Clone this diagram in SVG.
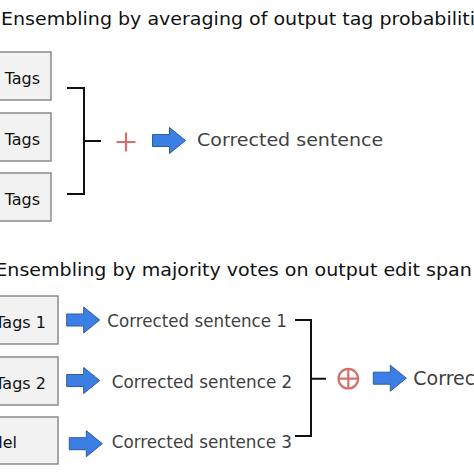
<svg xmlns="http://www.w3.org/2000/svg" width="474" height="474" viewBox="0 0 474 474">
<style>
.bg{fill:#ffffff}
.title{font-family:"DejaVu Sans","Noto Sans",sans-serif;font-size:18.5px;fill:#111111}
.box{fill:#f2f2f2;stroke:#8a8a8a;stroke-width:1.5}
.lbl{font-family:"DejaVu Sans","Noto Sans",sans-serif;font-size:16px;fill:#111111}
.out{font-family:"DejaVu Sans","Noto Sans",sans-serif;font-size:18.5px;fill:#3f3f3f}
.br{fill:none;stroke:#111111;stroke-width:2}
.red{fill:none;stroke:#d4706c;stroke-width:2.2}
.arr{fill:#3c7fe4;stroke:#2d5aa0;stroke-width:1}
</style>
<defs>
<path id="blk" class="arr" d="M0,-6 H17 V-13 L33,0 L17,13 V6 H0 Z"/>
</defs>
<rect class="bg" x="0" y="0" width="474" height="474"/>

<g id="title-top">
<text class="title" x="1" y="25" textLength="474" lengthAdjust="spacingAndGlyphs">Ensembling by averaging of output tag probabiliti</text>
</g>
<g id="top-box-1"><rect class="box" x="-10" y="52" width="61" height="48"/><text class="lbl" x="4.7" y="84.3">Tags</text></g>
<g id="top-box-2"><rect class="box" x="-10" y="113" width="61" height="48"/><text class="lbl" x="4.7" y="145">Tags</text></g>
<g id="top-box-3"><rect class="box" x="-10" y="173" width="61" height="48"/><text class="lbl" x="4.7" y="205">Tags</text></g>
<g id="top-plus"><path class="red" d="M116.5,142 H135.5 M126,132.5 V151.5"/></g>
<g id="top-output"><text class="out" x="197" y="146" textLength="186.3" lengthAdjust="spacingAndGlyphs">Corrected sentence</text></g>

<g id="title-bottom">
<text class="title" x="-4.7" y="276" textLength="476.4" lengthAdjust="spacingAndGlyphs">Ensembling by majority votes on output edit span</text>
</g>
<g id="bot-box-1"><rect class="box" x="-10" y="296" width="68" height="48"/><text class="lbl" x="-4.8" y="328">Tags 1</text></g>
<g id="bot-box-2"><rect class="box" x="-10" y="357" width="68" height="48"/><text class="lbl" x="-4.8" y="389">Tags 2</text></g>
<g id="bot-box-3"><rect class="box" x="-10" y="417" width="68" height="47"/><text class="lbl" x="-7.4" y="448.3">del</text></g>
<g id="sent-1"><text class="out" x="107.3" y="326.7" textLength="179.7" lengthAdjust="spacingAndGlyphs">Corrected sentence 1</text></g>
<g id="sent-2"><text class="out" x="111.7" y="388.3" textLength="180.6" lengthAdjust="spacingAndGlyphs">Corrected sentence 2</text></g>
<g id="sent-3"><text class="out" x="111.7" y="448.3" textLength="180.3" lengthAdjust="spacingAndGlyphs">Corrected sentence 3</text></g>
<g id="bot-oplus"><circle class="red" cx="348.3" cy="378.7" r="9.8"/><path class="red" d="M338.5,378.7 H358.1 M348.3,368.9 V388.5"/></g>
<g id="bot-output"><text class="out" x="413.3" y="385" style="font-size:19px">Correc</text></g>

<g id="connectors">
<path class="br" d="M67,88 H84 V194 H67 M84,141 H101"/>
<use href="#blk" x="152.5" y="140.5"/>
<use href="#blk" x="66.7" y="320"/>
<use href="#blk" x="66.7" y="380.5"/>
<use href="#blk" x="69.3" y="443.7"/>
<path class="br" d="M295,320 H311 V436 H295 M311,378.7 H326"/>
<use href="#blk" x="373.3" y="378.2"/>
</g>
</svg>
